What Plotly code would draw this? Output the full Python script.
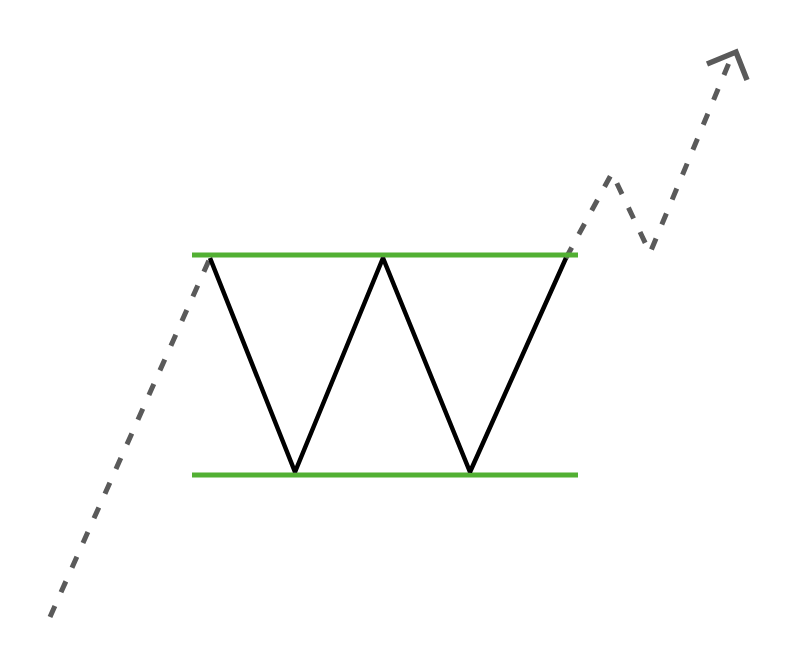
import plotly.graph_objects as go

# path points (pixel-like coordinates, y grows downward)
entry_x = [50, 210]
entry_y = [617, 258]

w_x = [210, 295, 383, 470, 566]
w_y = [258, 472, 258, 472, 258]

exit_x = [566, 612, 650, 731]
exit_y = [258, 173, 253, 58]

arrow_x = [707, 736, 747]
arrow_y = [64, 52, 80]

resist_x = [192, 578]
resist_y = [255, 255]
support_x = [192, 578]
support_y = [475, 475]

gray = '#5a5a5a'
green = '#52b033'

fig = go.Figure()
fig.add_trace(go.Scatter(x=entry_x, y=entry_y, mode='lines',
                         line=dict(color=gray, width=5, dash='12px,15px')))
fig.add_trace(go.Scatter(x=exit_x, y=exit_y, mode='lines',
                         line=dict(color=gray, width=5, dash='12px,15px')))
fig.add_trace(go.Scatter(x=arrow_x, y=arrow_y, mode='lines',
                         line=dict(color=gray, width=5.5)))
fig.add_trace(go.Scatter(x=resist_x, y=resist_y, mode='lines',
                         line=dict(color=green, width=5)))
fig.add_trace(go.Scatter(x=support_x, y=support_y, mode='lines',
                         line=dict(color=green, width=5)))
fig.add_trace(go.Scatter(x=w_x, y=w_y, mode='lines',
                         line=dict(color='black', width=4.5)))

# page body has an 8px margin, so offset the ranges to land on the same pixels
fig.update_xaxes(range=[8, 796], visible=False)
fig.update_yaxes(range=[669, 8], visible=False)
fig.update_layout(width=788, height=661, margin=dict(l=0, r=0, t=0, b=0),
                  paper_bgcolor='white', plot_bgcolor='white', showlegend=False)

fig.write_html("out.html")
